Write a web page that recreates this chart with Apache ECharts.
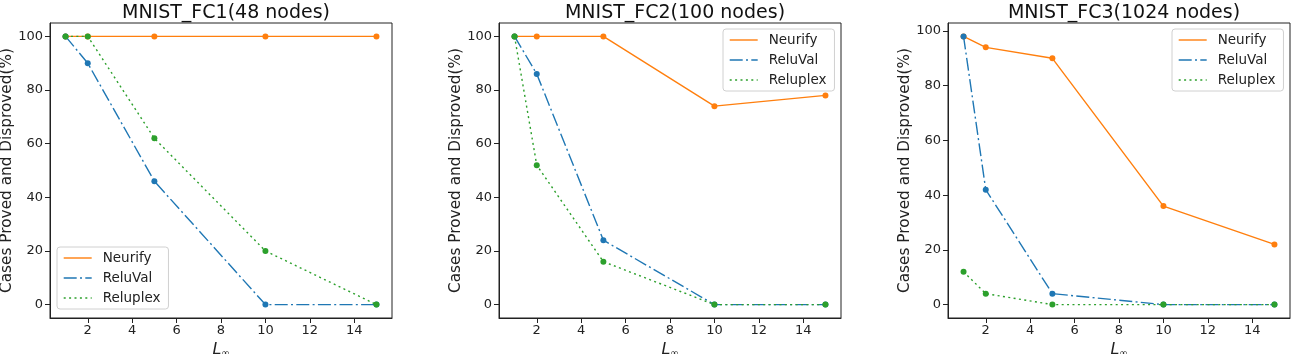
<!DOCTYPE html>
<html>
<head>
<meta charset="utf-8">
<script src="https://cdn.jsdelivr.net/npm/echarts@6/dist/echarts.min.js"></script>
<style>
  html, body { margin: 0; padding: 0; background: #fff; }
  #chart { width: 1291px; height: 354px; }
</style>
</head>
<body>
<div id="chart"></div>
<script>
// L-infinity values on the x axis
const lInf = [1, 2, 5, 10, 15];

const titles = ["MNIST_FC1(48 nodes)", "MNIST_FC2(100 nodes)", "MNIST_FC3(1024 nodes)"];
const methods = ["Neurify", "ReluVal", "Reluplex"];

// % of cases proved and disproved
const fc1Neurify = [100, 100, 100, 100, 100];
const fc1ReluVal = [100, 90, 46, 0, 0];
const fc1Reluplex = [100, 100, 62, 20, 0];

const fc2Neurify = [100, 100, 100, 74, 78];
const fc2ReluVal = [100, 86, 24, 0, 0];
const fc2Reluplex = [100, 52, 16, 0, 0];

const fc3Neurify = [98, 94, 90, 36, 22];
const fc3ReluVal = [98, 42, 4, 0, 0];
const fc3Reluplex = [12, 4, 0, 0, 0];

const xTicks = [2, 4, 6, 8, 10, 12, 14];
const yTicks = [0, 20, 40, 60, 80, 100];

const panelData = [
  [fc1Neurify, fc1ReluVal, fc1Reluplex],
  [fc2Neurify, fc2ReluVal, fc2Reluplex],
  [fc3Neurify, fc3ReluVal, fc3Reluplex],
];

const FONT = "DejaVu Sans";
const colors = ["#ff7f0e", "#1f77b4", "#2ca02c"];
const lineTypes = ["solid", [13, 3.3, 2, 3.3], [2, 3.4]];

const gridLefts = [50, 499, 948];
const gridWidth = 342;
const gridTop = 23;
const gridHeight = 295;
const yRanges = [[-5, 105], [-5, 105], [-4.9, 102.9]];
const legendPos = [
  { left: 57, top: 247 },
  { left: 723, top: 29 },
  { left: 1172, top: 29 },
];

const chart = echarts.init(document.getElementById("chart"));

const grid = [], xAxis = [], yAxis = [], series = [], title = [], legend = [];

panelData.forEach((lines, p) => {
  grid.push({
    left: gridLefts[p],
    top: gridTop,
    width: gridWidth,
    height: gridHeight,
    outerBoundsMode: "none",
    containLabel: false,
    show: true,
    borderColor: "#222",
    borderWidth: 1,
    backgroundColor: "#fff",
  });

  title.push({
    text: titles[p],
    left: gridLefts[p] + gridWidth / 2,
    top: -1,
    textAlign: "center",
    textStyle: { fontFamily: FONT, fontSize: 19, fontWeight: "normal", color: "#111" },
  });

  xAxis.push({
    type: "value",
    gridIndex: p,
    min: 0.3,
    max: 15.7,
    splitLine: { show: false },
    axisLine: { show: true, onZero: false, lineStyle: { color: "#222", width: 1 } },
    axisTick: { show: true, length: 5, lineStyle: { color: "#222" }, customValues: xTicks },
    axisLabel: { fontFamily: FONT, fontSize: 13, color: "#222", margin: 6, customValues: xTicks },
    name: "{l|L}{s|∞}",
    nameLocation: "middle",
    nameGap: 14,
    nameTextStyle: {
      rich: {
        l: { fontFamily: FONT, fontSize: 16, fontStyle: "italic", color: "#222", lineHeight: 16 },
        s: { fontFamily: FONT, fontSize: 10, color: "#222", padding: [7, 0, 0, 0] },
      },
    },
  });

  yAxis.push({
    type: "value",
    gridIndex: p,
    min: yRanges[p][0],
    max: yRanges[p][1],
    splitLine: { show: false },
    axisLine: { show: true, onZero: false, lineStyle: { color: "#222", width: 1 } },
    axisTick: { show: true, length: 5, lineStyle: { color: "#222" }, customValues: yTicks },
    axisLabel: { fontFamily: FONT, fontSize: 13, color: "#222", margin: 7, customValues: yTicks },
    name: "Cases Proved and Disproved(%)",
    nameLocation: "middle",
    nameGap: 34,
    nameTextStyle: { fontFamily: FONT, fontSize: 15.3, color: "#222" },
  });

  lines.forEach((vals, m) => {
    series.push({
      name: methods[m],
      type: "line",
      xAxisIndex: p,
      yAxisIndex: p,
      data: lInf.map((x, i) => [x, vals[i]]),
      symbol: "circle",
      symbolSize: 6,
      color: colors[m],
      itemStyle: { color: colors[m] },
      lineStyle: { color: colors[m], width: 1.4, type: lineTypes[m] },
      animation: false,
      z: 2 + m,
    });
  });

  legend.push({
    orient: "vertical",
    left: legendPos[p].left,
    top: legendPos[p].top,
    data: methods,
    itemWidth: 28,
    itemHeight: 14,
    itemGap: 6,
    padding: [4, 8, 4, 6],
    backgroundColor: "rgba(255,255,255,0.85)",
    borderColor: "#d0d0d0",
    borderWidth: 1,
    borderRadius: 3,
    selectedMode: false,
    itemStyle: { opacity: 0 },
    lineStyle: { width: 1.4 },
    textStyle: { fontFamily: FONT, fontSize: 13.5, color: "#222", padding: [0, 0, 0, 6] },
  });
});

chart.setOption({
  animation: false,
  title,
  grid,
  xAxis,
  yAxis,
  legend,
  series,
});
</script>
</body>
</html>
